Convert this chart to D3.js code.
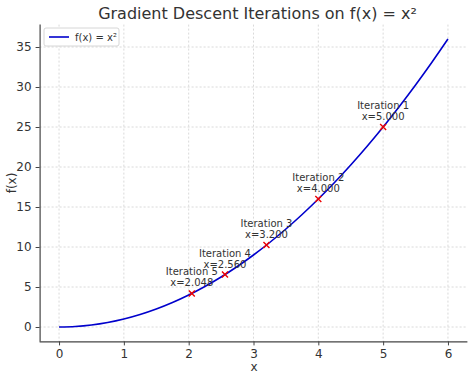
<!DOCTYPE html>
<html><head><meta charset="utf-8">
<script src="https://cdn.jsdelivr.net/npm/d3@7"></script>
<style>
body{margin:0;background:#fff;}
text{font-family:"DejaVu Sans",sans-serif;}
</style></head>
<body><svg id="c" width="474" height="379"></svg>
<script>
const curveX = [0,0.25,0.5,0.75,1,1.25,1.5,1.75,2,2.25,2.5,2.75,3,3.25,3.5,3.75,4,4.25,4.5,4.75,5,5.25,5.5,5.75,6];
const curveY = [0,0.0625,0.25,0.5625,1,1.5625,2.25,3.0625,4,5.0625,6.25,7.5625,9,10.5625,12.25,14.0625,16,18.0625,20.25,22.5625,25,27.5625,30.25,33.0625,36];
const iterNames = ["Iteration 1","Iteration 2","Iteration 3","Iteration 4","Iteration 5"];
const iterX = [5.000,4.000,3.200,2.560,2.048];
const iterY = [25.0,16.0,10.24,6.5536,4.194];
const iterLabels = ["x=5.000","x=4.000","x=3.200","x=2.560","x=2.048"];
const xTicks = [0,1,2,3,4,5,6];
const yTicks = [0,5,10,15,20,25,30,35];

const svg = d3.select("#c");
const L=39.6, R=467.4, T=24.6, B=341.4;
const x = d3.scaleLinear().domain([-0.3,6.3]).range([L,R]);
const y = d3.scaleLinear().domain([-1.8,37.8]).range([B,T]);

// grid
const g = svg.append("g");
g.selectAll(".gx").data(xTicks).join("line")
 .attr("x1",d=>x(d)).attr("x2",d=>x(d)).attr("y1",T).attr("y2",B)
 .attr("stroke","#d0d0d0").attr("stroke-width",0.8).attr("stroke-dasharray","2,2");
g.selectAll(".gy").data(yTicks).join("line")
 .attr("x1",L).attr("x2",R).attr("y1",d=>y(d)).attr("y2",d=>y(d))
 .attr("stroke","#d0d0d0").attr("stroke-width",0.8).attr("stroke-dasharray","2,2");

// axes
const xa = svg.append("g").attr("transform",`translate(0,${B})`)
 .call(d3.axisBottom(x).tickValues(xTicks).tickSize(4).tickPadding(4).tickFormat(d3.format("d")));
const ya = svg.append("g").attr("transform",`translate(${L},0)`)
 .call(d3.axisLeft(y).tickValues(yTicks).tickSize(4).tickPadding(4).tickFormat(d3.format("d")));
[xa,ya].forEach(a=>{
 a.select(".domain").attr("stroke","#444").attr("stroke-width",1.2);
 a.selectAll(".tick line").attr("stroke","#444");
 a.selectAll(".tick text").attr("fill","#333").style("font-size","12px");
});
xa.select(".domain").attr("d",`M${L},0.5H${R}`);
ya.select(".domain").attr("d",`M0.5,${B}V${T}`);

// curve
const pts = curveX.map((v,i)=>[v,curveY[i]]);
svg.append("path").datum(pts)
 .attr("fill","none").attr("stroke","#0000cc").attr("stroke-width",1.6)
 .attr("d",d3.line().x(d=>x(d[0])).y(d=>y(d[1])).curve(d3.curveMonotoneX));

// markers
const m = svg.append("g");
iterX.forEach((v,i)=>{
 const px=x(v), py=y(iterY[i]), s=3;
 m.append("path").attr("d",`M${px-s},${py-s}L${px+s},${py+s}M${px-s},${py+s}L${px+s},${py-s}`)
  .attr("stroke","#ee0000").attr("stroke-width",1.4);
 m.append("text").attr("x",px).attr("y",py-18).attr("text-anchor","middle")
  .attr("fill","#333").style("font-size","10px").text(iterNames[i]);
 m.append("text").attr("x",px).attr("y",py-7).attr("text-anchor","middle")
  .attr("fill","#333").style("font-size","10px").text(iterLabels[i]);
});

// labels
svg.append("text").attr("x",(L+R)/2+4).attr("y",19).attr("text-anchor","middle")
 .attr("fill","#333").style("font-size","16px").text("Gradient Descent Iterations on f(x) = x²");
svg.append("text").attr("x",254).attr("y",371).attr("text-anchor","middle")
 .attr("fill","#333").style("font-size","12px").text("x");
svg.append("text").attr("transform",`translate(16,183) rotate(-90)`).attr("text-anchor","middle")
 .attr("fill","#333").style("font-size","12px").text("f(x)");

// legend
const lg = svg.append("g");
lg.append("rect").attr("x",44).attr("y",28).attr("width",75).attr("height",18).attr("rx",2)
 .attr("fill","#fff").attr("stroke","#ccc").attr("stroke-width",0.8);
lg.append("line").attr("x1",49).attr("x2",69).attr("y1",37).attr("y2",37)
 .attr("stroke","#0000cc").attr("stroke-width",1.6);
lg.append("text").attr("x",75).attr("y",40.5).attr("fill","#333").style("font-size","10px").text("f(x) = x²");
</script></body></html>
